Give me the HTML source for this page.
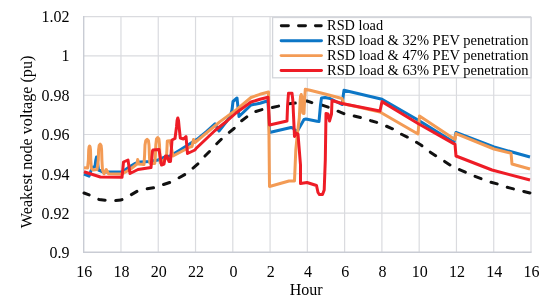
<!DOCTYPE html>
<html><head><meta charset="utf-8"><style>
html,body{margin:0;padding:0;background:#fff;width:550px;height:306px;overflow:hidden}
svg{display:block}
</style></head><body>
<svg width="550" height="306" viewBox="0 0 550 306">
<rect x="0" y="0" width="550" height="306" fill="#fff"/>
<g stroke="#dadbdf" stroke-width="1.2" fill="none"><line x1="83.70" y1="16.70" x2="531.00" y2="16.70"/><line x1="83.70" y1="55.97" x2="531.00" y2="55.97"/><line x1="83.70" y1="95.23" x2="531.00" y2="95.23"/><line x1="83.70" y1="134.50" x2="531.00" y2="134.50"/><line x1="83.70" y1="173.77" x2="531.00" y2="173.77"/><line x1="83.70" y1="213.03" x2="531.00" y2="213.03"/><line x1="120.97" y1="16.70" x2="120.97" y2="252.30"/><line x1="158.25" y1="16.70" x2="158.25" y2="252.30"/><line x1="195.53" y1="16.70" x2="195.53" y2="252.30"/><line x1="232.80" y1="16.70" x2="232.80" y2="252.30"/><line x1="270.07" y1="16.70" x2="270.07" y2="252.30"/><line x1="307.35" y1="16.70" x2="307.35" y2="252.30"/><line x1="344.62" y1="16.70" x2="344.62" y2="252.30"/><line x1="381.90" y1="16.70" x2="381.90" y2="252.30"/><line x1="419.18" y1="16.70" x2="419.18" y2="252.30"/><line x1="456.45" y1="16.70" x2="456.45" y2="252.30"/><line x1="493.73" y1="16.70" x2="493.73" y2="252.30"/><line x1="531.00" y1="16.70" x2="531.00" y2="252.30"/></g>
<g stroke="#c9ccd4" stroke-width="1.4" fill="none"><line x1="83.70" y1="16.10" x2="83.70" y2="252.30"/><line x1="83.00" y1="252.30" x2="531.60" y2="252.30"/></g>
<g font-family="Liberation Serif, serif" font-size="16" fill="#000"><text x="69.6" y="21.90" text-anchor="end">1.02</text><text x="69.6" y="61.32" text-anchor="end">1</text><text x="69.6" y="100.73" text-anchor="end">0.98</text><text x="69.6" y="140.15" text-anchor="end">0.96</text><text x="69.6" y="179.57" text-anchor="end">0.94</text><text x="69.6" y="218.98" text-anchor="end">0.92</text><text x="69.6" y="258.40" text-anchor="end">0.9</text><text x="84.30" y="277.2" text-anchor="middle">16</text><text x="121.57" y="277.2" text-anchor="middle">18</text><text x="158.85" y="277.2" text-anchor="middle">20</text><text x="196.12" y="277.2" text-anchor="middle">22</text><text x="233.40" y="277.2" text-anchor="middle">0</text><text x="270.68" y="277.2" text-anchor="middle">2</text><text x="307.95" y="277.2" text-anchor="middle">4</text><text x="345.23" y="277.2" text-anchor="middle">6</text><text x="382.50" y="277.2" text-anchor="middle">8</text><text x="419.78" y="277.2" text-anchor="middle">10</text><text x="457.05" y="277.2" text-anchor="middle">12</text><text x="494.33" y="277.2" text-anchor="middle">14</text><text x="531.60" y="277.2" text-anchor="middle">16</text></g>
<text x="306.2" y="294.8" text-anchor="middle" font-family="Liberation Serif, serif" font-size="16" fill="#000">Hour</text>
<text transform="translate(31.7,141.9) rotate(-90)" text-anchor="middle" font-family="Liberation Serif, serif" font-size="16.2" fill="#000">Weakest node voltage (pu)</text>
<polyline points="84.0,193.0 90.0,195.3 99.0,199.4 107.0,200.4 114.0,200.7 121.0,200.0 124.0,198.6 130.0,195.4 138.0,190.8 146.0,189.0 155.0,187.6 162.0,185.0 170.0,182.4 178.0,178.4 185.0,174.4 192.0,169.0 199.0,163.0 204.5,156.5 210.0,151.0 216.0,144.5 222.0,138.5 228.5,133.0 234.0,128.5 240.0,122.0 248.0,116.0 254.0,112.0 262.0,109.6 270.0,108.0 279.0,106.0 289.0,103.8 296.0,103.0 301.0,101.5 307.0,101.0 313.0,103.0 322.0,105.0 329.0,107.5 337.0,110.8 342.0,112.8 346.0,114.6 354.0,116.0 362.0,117.9 371.0,120.8 378.0,122.8 386.0,126.0 393.0,129.0 401.0,134.0 408.0,137.4 416.0,142.0 421.0,145.0 430.0,152.0 436.0,156.0 444.0,161.0 451.0,165.6 458.0,169.0 466.0,172.4 474.0,176.0 482.0,179.0 490.0,182.0 499.0,184.4 506.0,187.0 514.0,189.0 522.0,191.0 530.0,193.0" fill="none" stroke="#111111" stroke-width="3" stroke-linejoin="round" stroke-dasharray="6.4,10.61" stroke-dashoffset="0.9" stroke-linecap="round"/>
<polyline points="84.0,174.2 89.0,176.2 92.2,167.5 95.0,166.5 95.8,160.0 96.5,157.0 97.3,160.0 98.5,170.0 103.3,172.0 122.0,172.0 130.0,166.5 135.0,163.5 140.0,162.0 150.0,161.5 158.0,160.0 165.0,157.0 170.0,156.0 175.0,153.0 180.0,150.0 197.0,139.3 207.0,131.2 215.0,123.8 219.0,131.0 230.0,117.0 232.0,110.0 233.0,101.5 237.0,98.0 239.0,116.5 251.0,105.0 260.0,103.3 268.0,100.7 269.5,132.5 291.0,127.5 293.0,128.0 296.0,131.5 298.0,130.0 304.0,119.5 306.0,119.0 317.0,121.3 319.0,121.5 320.5,105.0 321.5,98.0 325.0,97.5 330.0,98.5 342.0,104.5 344.0,90.3 382.0,99.2 418.0,120.0 454.0,142.3 456.0,132.4 494.0,147.0 530.0,157.0" fill="none" stroke="#0c76c6" stroke-width="3" stroke-linejoin="round"/>
<polyline points="84.0,167.7 87.6,168.0 88.4,160.0 88.7,150.0 89.1,147.0 89.6,146.0 90.1,147.0 90.5,150.0 90.8,160.0 91.4,168.5 93.0,170.0 97.0,169.5 98.3,160.0 98.6,150.0 99.2,145.5 100.2,144.2 101.1,145.5 101.6,150.0 101.9,160.0 102.5,170.0 104.0,173.8 105.4,171.0 106.2,169.5 107.0,171.0 108.5,173.8 122.0,174.0 130.0,169.5 137.0,164.0 137.7,159.5 138.5,164.0 144.0,164.5 144.6,155.0 145.0,145.0 145.8,140.5 147.1,139.3 148.4,140.5 149.0,145.0 149.4,155.0 149.8,163.0 151.0,163.5 154.8,163.5 155.4,155.0 155.8,145.0 156.5,139.0 157.7,137.6 158.9,139.0 159.5,145.0 159.9,155.0 160.4,163.0 166.4,158.0 166.9,150.0 167.3,141.0 170.0,140.7 173.0,156.0 190.0,147.0 192.0,146.5 193.5,139.5 195.0,142.5 220.0,121.6 235.0,110.8 251.0,97.5 260.0,94.3 268.5,92.0 269.5,186.5 289.0,181.0 294.5,181.0 295.8,150.0 297.5,133.0 299.3,118.0 300.2,100.0 300.6,96.0 301.2,94.5 301.8,96.0 302.3,102.0 302.7,113.0 304.0,113.5 304.6,100.0 305.3,89.3 310.0,90.3 325.0,94.0 342.0,98.5 344.0,104.0 356.0,106.5 380.0,112.0 418.0,134.0 419.5,116.0 455.0,139.5 456.0,133.6 494.0,149.0 511.0,153.2 512.0,164.0 530.0,169.0" fill="none" stroke="#f39b55" stroke-width="3" stroke-linejoin="round"/>
<polyline points="84.0,171.7 100.4,177.0 122.0,177.3 123.5,162.0 128.0,160.0 130.0,173.5 138.0,169.5 151.0,167.5 152.5,151.0 153.0,150.0 159.0,149.5 161.5,165.0 164.0,164.0 165.5,156.0 167.0,156.0 169.0,161.5 170.5,161.5 172.0,140.0 175.0,138.5 176.5,127.0 177.1,120.5 177.8,118.0 178.5,120.5 179.1,127.0 180.3,138.0 183.5,139.0 186.0,136.5 187.5,153.5 195.0,150.0 196.0,148.5 215.0,130.5 227.0,121.0 236.0,113.0 251.0,102.0 260.0,99.3 268.0,97.2 269.5,125.0 287.0,121.0 287.6,105.0 288.5,93.2 292.0,93.2 292.8,100.0 294.5,136.5 296.0,133.0 298.0,134.0 300.5,165.0 300.5,183.5 307.0,182.5 316.5,185.5 318.0,192.5 319.5,194.6 322.5,194.6 324.2,190.0 325.3,160.0 326.0,113.5 328.0,114.0 329.5,121.0 331.5,114.0 332.0,100.5 342.0,103.5 356.0,106.2 380.0,111.0 382.0,101.6 418.0,123.5 455.0,144.4 456.0,156.0 492.0,170.0 530.0,180.0" fill="none" stroke="#ee1c26" stroke-width="3" stroke-linejoin="round"/>
<rect x="272.6" y="17.5" width="258.4" height="60.3" fill="#fff" stroke="#d3d5da" stroke-width="1.3"/><line x1="281.3" y1="25.8" x2="288.4" y2="25.8" stroke="#111111" stroke-width="2.9" stroke-linecap="round"/><line x1="298.5" y1="25.8" x2="305.5" y2="25.8" stroke="#111111" stroke-width="2.9" stroke-linecap="round"/><line x1="315.4" y1="25.8" x2="321.3" y2="25.8" stroke="#111111" stroke-width="2.9" stroke-linecap="round"/><text x="327.1" y="30.3" font-family="Liberation Serif, serif" font-size="14.7" fill="#000" textLength="56" lengthAdjust="spacingAndGlyphs">RSD load</text><line x1="281.1" y1="40.7" x2="321.5" y2="40.7" stroke="#0c76c6" stroke-width="2.9" stroke-linecap="round"/><text x="327.1" y="45.2" font-family="Liberation Serif, serif" font-size="14.7" fill="#000" textLength="201.5" lengthAdjust="spacingAndGlyphs">RSD load &amp; 32% PEV penetration</text><line x1="281.1" y1="55.6" x2="321.5" y2="55.6" stroke="#f39b55" stroke-width="2.9" stroke-linecap="round"/><text x="327.1" y="60.1" font-family="Liberation Serif, serif" font-size="14.7" fill="#000" textLength="201.5" lengthAdjust="spacingAndGlyphs">RSD load &amp; 47% PEV penetration</text><line x1="281.1" y1="70.5" x2="321.5" y2="70.5" stroke="#ee1c26" stroke-width="2.9" stroke-linecap="round"/><text x="327.1" y="75.0" font-family="Liberation Serif, serif" font-size="14.7" fill="#000" textLength="201.5" lengthAdjust="spacingAndGlyphs">RSD load &amp; 63% PEV penetration</text>
</svg>
</body></html>
